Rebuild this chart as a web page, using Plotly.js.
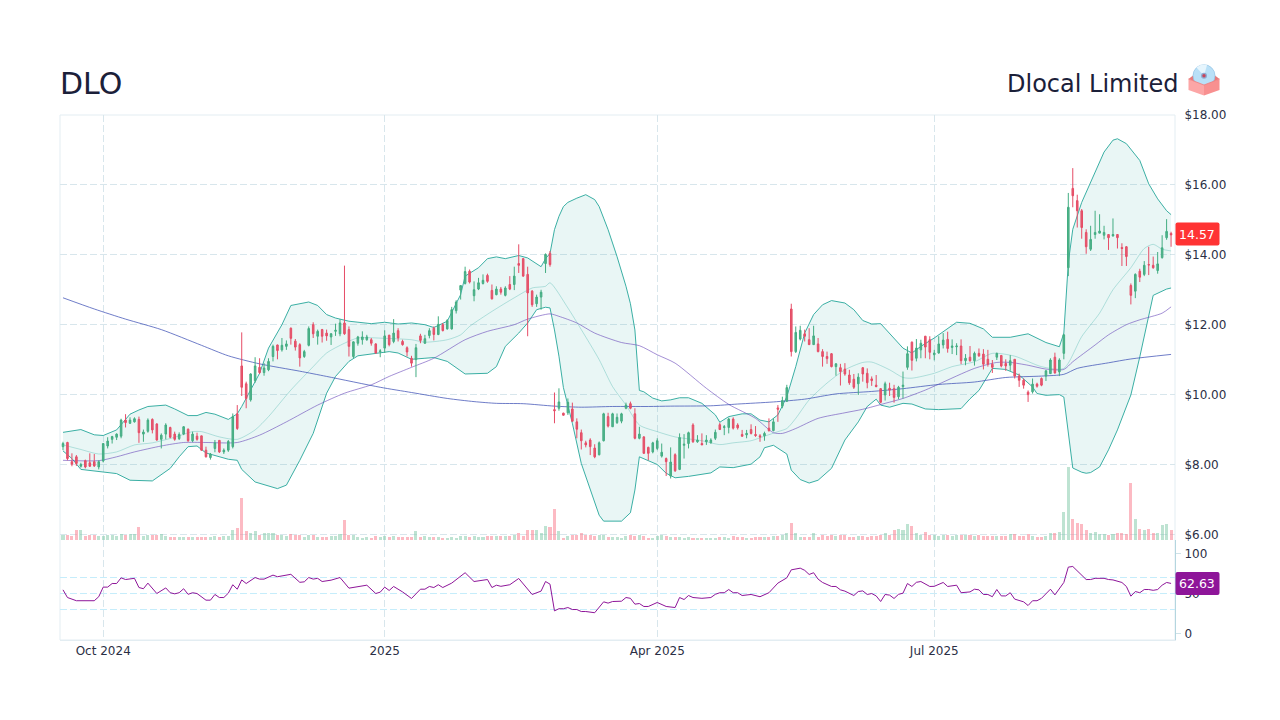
<!DOCTYPE html>
<html>
<head>
<meta charset="utf-8">
<script src="https://cdn.plot.ly/plotly-3.0.1.min.js"></script>
<style>html,body{margin:0;padding:0;background:#fff}#chart{width:1280px;height:720px}</style>
</head>
<body>
<div id="chart"></div>
<script>
const dates = ["2024-09-18","2024-09-19","2024-09-20","2024-09-23","2024-09-24","2024-09-25","2024-09-26","2024-09-27","2024-09-30",
"2024-10-01","2024-10-02","2024-10-03","2024-10-04","2024-10-07","2024-10-08","2024-10-09","2024-10-10","2024-10-11","2024-10-14","2024-10-15","2024-10-16","2024-10-17","2024-10-18","2024-10-21","2024-10-22","2024-10-23","2024-10-24","2024-10-25","2024-10-28","2024-10-29","2024-10-30","2024-10-31",
"2024-11-01","2024-11-04","2024-11-05","2024-11-06","2024-11-07","2024-11-08","2024-11-11","2024-11-12","2024-11-13","2024-11-14","2024-11-15","2024-11-18","2024-11-19","2024-11-20","2024-11-21","2024-11-22","2024-11-25","2024-11-26","2024-11-27","2024-11-29",
"2024-12-02","2024-12-03","2024-12-04","2024-12-05","2024-12-06","2024-12-09","2024-12-10","2024-12-11","2024-12-12","2024-12-13","2024-12-16","2024-12-17","2024-12-18","2024-12-19","2024-12-20","2024-12-23","2024-12-24","2024-12-26","2024-12-27","2024-12-30","2024-12-31",
"2025-01-02","2025-01-03","2025-01-06","2025-01-07","2025-01-08","2025-01-10","2025-01-13","2025-01-14","2025-01-15","2025-01-16","2025-01-17","2025-01-21","2025-01-22","2025-01-23","2025-01-24","2025-01-27","2025-01-28","2025-01-29","2025-01-30","2025-01-31",
"2025-02-03","2025-02-04","2025-02-05","2025-02-06","2025-02-07","2025-02-10","2025-02-11","2025-02-12","2025-02-13","2025-02-14","2025-02-18","2025-02-19","2025-02-20","2025-02-21","2025-02-24","2025-02-25","2025-02-26","2025-02-27","2025-02-28",
"2025-03-03","2025-03-04","2025-03-05","2025-03-06","2025-03-07","2025-03-10","2025-03-11","2025-03-12","2025-03-13","2025-03-14","2025-03-17","2025-03-18","2025-03-19","2025-03-20","2025-03-21","2025-03-24","2025-03-25","2025-03-26","2025-03-27","2025-03-28","2025-03-31",
"2025-04-01","2025-04-02","2025-04-03","2025-04-04","2025-04-07","2025-04-08","2025-04-09","2025-04-10","2025-04-11","2025-04-14","2025-04-15","2025-04-16","2025-04-17","2025-04-21","2025-04-22","2025-04-23","2025-04-24","2025-04-25","2025-04-28","2025-04-29","2025-04-30",
"2025-05-01","2025-05-02","2025-05-05","2025-05-06","2025-05-07","2025-05-08","2025-05-09","2025-05-12","2025-05-13","2025-05-14","2025-05-15","2025-05-16","2025-05-19","2025-05-20","2025-05-21","2025-05-22","2025-05-23","2025-05-27","2025-05-28","2025-05-29","2025-05-30",
"2025-06-02","2025-06-03","2025-06-04","2025-06-05","2025-06-06","2025-06-09","2025-06-10","2025-06-11","2025-06-12","2025-06-13","2025-06-16","2025-06-17","2025-06-18","2025-06-20","2025-06-23","2025-06-24","2025-06-25","2025-06-26","2025-06-27","2025-06-30",
"2025-07-01","2025-07-02","2025-07-03","2025-07-07","2025-07-08","2025-07-09","2025-07-10","2025-07-11","2025-07-14","2025-07-15","2025-07-16","2025-07-17","2025-07-18","2025-07-21","2025-07-22","2025-07-23","2025-07-24","2025-07-25","2025-07-28","2025-07-29","2025-07-30","2025-07-31",
"2025-08-01","2025-08-04","2025-08-05","2025-08-06","2025-08-07","2025-08-08","2025-08-11","2025-08-12","2025-08-13","2025-08-14","2025-08-15","2025-08-18","2025-08-19","2025-08-20","2025-08-21","2025-08-22","2025-08-25","2025-08-26","2025-08-27","2025-08-28","2025-08-29",
"2025-09-02","2025-09-03","2025-09-04","2025-09-05","2025-09-08","2025-09-09","2025-09-10","2025-09-11","2025-09-12","2025-09-15","2025-09-16"];

const openP = [8.51,8.63,8.08,8.22,7.95,8.11,8.05,8.08,7.93,8.10,8.53,8.72,8.78,8.81,9.27,9.18,9.22,9.29,8.87,8.95,9.29,9.16,8.72,8.87,9.06,8.87,8.74,8.87,9.01,8.68,8.81,8.82,8.41,8.20,8.46,8.69,8.36,8.41,8.51,9.45,10.82,10.31,9.85,10.40,10.78,10.63,10.71,11.09,11.42,11.28,11.38,11.90,11.53,11.43,11.09,11.41,12.00,11.67,11.86,11.76,11.65,11.81,11.74,12.05,11.86,11.09,11.47,11.57,11.57,11.57,11.45,11.23,11.33,11.70,11.52,11.83,11.52,11.34,11.04,11.00,11.68,11.47,11.69,11.90,11.72,12.00,11.88,11.88,12.40,12.99,13.18,13.53,12.83,13.02,13.18,13.41,12.98,12.86,13.02,12.84,13.15,13.15,13.75,13.89,13.44,12.96,12.60,12.79,13.75,14.04,9.57,9.61,9.47,9.48,9.59,9.22,8.91,8.62,8.70,8.47,8.28,8.68,9.37,9.08,9.20,9.24,9.61,9.74,9.45,8.75,8.79,8.49,8.36,8.46,8.24,8.17,7.67,8.28,7.86,8.55,8.60,9.13,8.65,8.60,8.65,8.62,8.75,9.14,9.06,9.06,9.30,9.13,8.86,8.85,9.00,8.86,8.82,8.82,9.04,8.97,9.62,9.67,9.81,12.45,11.23,11.59,11.74,11.57,11.43,11.45,11.23,11.09,11.17,10.80,10.77,10.73,10.56,10.44,10.31,10.77,10.61,10.45,10.27,10.17,9.99,10.18,10.17,9.94,10.23,10.78,11.50,11.04,11.28,11.67,11.57,11.14,11.19,11.42,11.58,11.35,11.37,11.39,10.97,11.07,10.97,11.18,11.16,11.01,10.87,11.07,11.12,10.89,10.84,11.01,10.53,10.41,10.07,10.08,10.30,10.46,10.53,10.60,11.07,10.65,11.18,13.63,15.90,15.55,15.26,14.64,14.16,14.58,14.62,14.56,14.58,14.54,14.58,14.21,14.23,13.12,12.96,13.53,13.44,13.72,13.70,13.55,13.92,14.49,14.61];
const closeP = [8.60,8.17,8.01,8.03,8.00,7.93,7.95,7.96,8.08,8.60,8.67,8.80,8.87,9.27,9.20,9.27,9.31,8.91,8.93,9.27,8.99,8.70,8.84,9.13,8.78,8.72,8.86,9.08,8.68,8.87,8.72,8.41,8.22,8.30,8.62,8.36,8.41,8.66,9.37,9.03,10.21,9.89,10.59,10.82,10.63,10.76,10.95,11.38,11.26,11.41,11.45,11.61,11.36,11.05,11.23,11.89,11.74,11.81,11.67,11.68,11.74,11.84,12.05,11.74,11.38,11.51,11.65,11.65,11.65,11.47,11.19,11.25,11.68,11.43,11.76,11.62,11.43,11.22,10.90,11.34,11.55,11.60,11.83,11.72,12.01,11.83,12.12,12.43,12.65,13.12,13.52,13.22,13.00,13.20,13.27,13.24,12.74,13.02,12.93,13.05,13.02,13.39,13.70,13.39,12.91,12.57,12.79,12.93,14.01,13.72,9.54,9.79,9.41,9.78,9.24,9.01,8.68,8.56,8.51,8.22,8.62,9.45,9.10,9.45,9.35,9.45,9.70,9.61,8.75,8.87,8.32,8.32,8.62,8.68,8.35,8.08,8.07,7.82,8.77,8.58,8.91,8.65,8.70,8.56,8.70,8.70,8.92,9.00,9.08,9.30,9.04,9.05,8.81,8.89,8.89,8.83,8.79,8.89,8.97,9.22,9.58,9.83,10.20,11.23,11.78,11.84,11.67,11.43,11.68,11.23,11.09,11.03,10.80,10.88,10.66,10.59,10.34,10.21,10.50,10.59,10.34,10.40,10.23,9.78,10.31,10.13,9.92,10.21,10.27,11.17,10.98,11.33,11.47,11.36,11.21,11.19,11.45,11.56,11.32,11.39,11.39,10.97,11.04,10.97,11.18,11.11,10.87,10.87,10.78,11.18,10.82,10.82,10.97,10.53,10.41,10.27,10.00,10.30,10.24,10.27,10.68,10.99,10.62,10.99,11.71,15.36,15.69,15.26,14.78,14.23,14.44,14.64,14.68,14.64,14.49,14.58,14.49,14.18,13.95,12.84,13.44,13.36,13.70,13.71,13.63,13.74,14.20,14.67,14.57];
const highP = [8.65,8.65,8.32,8.27,8.05,8.14,8.32,8.30,8.12,8.60,8.78,8.82,8.89,9.31,9.44,9.35,9.35,9.37,9.00,9.32,9.32,9.18,8.89,9.18,9.08,8.94,8.92,9.10,9.03,8.94,8.91,8.82,8.51,8.33,8.70,8.70,8.46,8.70,9.46,9.70,11.78,10.37,10.61,11.07,11.04,10.90,11.04,11.43,11.43,11.62,11.55,11.92,11.59,11.47,11.28,11.95,12.07,11.86,11.88,11.86,11.76,12.03,12.16,13.69,11.95,11.52,11.68,11.81,11.71,11.62,11.47,11.30,11.84,11.71,12.16,11.90,11.57,11.38,11.11,11.45,11.74,11.71,11.90,11.95,12.24,12.05,12.16,12.51,12.70,13.12,13.66,13.58,13.24,13.34,13.44,13.46,13.15,13.10,13.08,13.10,13.39,13.66,14.30,13.91,13.66,12.99,12.86,13.00,14.04,14.11,10.06,10.18,9.48,9.89,9.77,9.32,9.00,8.68,8.75,8.58,8.66,9.48,9.48,9.48,9.46,9.48,9.77,9.80,9.61,9.08,8.81,8.51,8.65,8.75,8.60,8.20,8.49,8.32,8.89,8.87,8.94,9.18,8.84,8.89,8.84,8.75,9.00,9.20,9.13,9.34,9.35,9.18,8.99,8.99,9.15,9.10,8.87,8.94,9.32,9.32,9.70,9.94,10.28,12.60,11.95,11.97,11.86,11.90,11.97,11.62,11.30,11.23,11.19,10.90,10.88,10.90,10.71,10.59,10.61,10.78,10.75,10.52,10.56,10.18,10.37,10.34,10.28,10.25,10.66,11.38,11.52,11.59,11.57,11.68,11.67,11.28,11.67,11.76,11.80,11.58,11.47,11.58,11.16,11.39,11.23,11.32,11.30,11.28,10.99,11.20,11.13,11.01,11.13,11.01,10.60,10.46,10.12,10.46,10.34,10.49,10.70,11.04,11.20,11.04,11.74,15.77,16.48,15.72,15.31,14.73,14.83,15.26,15.16,14.83,14.59,15.04,14.59,14.33,14.25,13.18,13.47,13.60,13.82,14.23,13.95,14.08,14.56,15.02,14.66];
const lowP = [8.41,8.12,7.95,7.96,7.91,7.89,7.93,7.93,7.86,8.06,8.46,8.60,8.70,8.75,9.06,9.16,9.20,8.62,8.65,8.91,8.89,8.68,8.46,8.72,8.75,8.68,8.70,8.84,8.65,8.64,8.68,8.39,8.20,8.14,8.35,8.33,8.30,8.36,8.46,8.99,9.96,9.61,9.80,10.34,10.59,10.54,10.67,10.95,11.01,11.23,11.28,11.43,11.26,10.80,11.05,11.38,11.62,11.43,11.49,11.54,11.42,11.68,11.67,11.71,11.09,11.04,11.40,11.43,11.54,11.40,11.17,11.07,11.19,11.38,11.47,11.52,11.40,11.09,10.80,10.50,11.47,11.45,11.61,11.55,11.70,11.81,11.86,11.86,12.32,12.72,13.15,13.18,12.67,12.99,13.15,13.20,12.72,12.84,12.86,12.81,12.99,12.99,13.48,13.37,11.67,12.51,12.51,12.43,13.48,13.66,9.18,9.54,9.40,9.42,9.22,8.75,8.43,8.49,8.27,8.18,8.26,8.66,9.06,9.08,9.16,9.18,9.58,9.58,8.72,8.72,8.30,8.12,8.32,8.41,8.20,7.67,7.60,7.79,7.84,8.17,8.46,8.62,8.62,8.56,8.56,8.60,8.70,8.99,8.84,8.89,9.00,9.00,8.79,8.75,8.86,8.79,8.65,8.68,8.94,8.95,9.22,9.61,9.79,11.09,11.19,11.55,11.52,11.43,11.43,11.21,10.80,10.88,10.78,10.54,10.26,10.54,10.28,10.16,9.99,10.37,10.18,10.25,10.21,9.75,9.83,9.96,9.77,9.87,9.89,10.71,10.69,10.95,11.04,11.04,11.01,10.98,11.17,11.32,11.20,11.16,11.13,10.87,10.84,10.94,10.83,11.08,10.72,10.80,10.62,10.99,10.78,10.68,10.68,10.46,10.22,10.17,9.79,10.03,10.20,10.24,10.39,10.59,10.60,10.53,11.01,13.39,15.36,14.78,14.46,14.03,14.11,14.46,14.62,14.44,14.14,14.52,14.18,13.68,13.68,12.58,12.76,13.22,13.39,13.42,13.60,13.46,13.89,14.43,14.23];
const volumeM = [2,1.75,1.38,3.88,3.88,1.38,1.75,1.75,1.38,1.5,1.75,1.75,1.38,2.38,2,2.38,2.38,4.75,1.38,2,1.75,1.75,2.38,1.38,1,1,1,1,1,1,1,1,1,1,1.38,1,1.38,1.38,3.88,4.38,15.63,3.25,2.75,3.25,2,2.75,2.75,2.75,1.75,2,1.38,2.38,2,1.75,1,1.75,1.75,1,1,1,1.38,1.38,2.38,7.38,2,1.75,1,0.75,1,0.75,1.38,1,1.38,1,1.38,1,1,1,1,3.25,1,1.38,1,1,1,0.75,0.75,1,0.63,1.38,1.38,1,1.38,1,1,1.38,1.38,1.38,1.38,1.38,1.38,2,2.5,1.38,3.63,3.63,3.63,2.5,5.13,4.75,11.5,3.25,0.75,1.38,1.75,1.75,2.5,1.75,1.75,1.38,1.75,2,1,1,1,0.63,1.38,2,1.38,1.75,1.38,0.63,0.63,1.38,1.75,1.38,1,1,1,0.63,1,0.63,0.63,0.63,0.63,0.63,0.63,1,1,0.63,1.38,1,1,0.63,0.63,1,1,1,1,1.38,1.38,1.75,2.5,6.38,2.5,1,1,1,2.5,1,1.75,1.38,1.75,1.38,1.88,1.88,1,1,1.5,1.5,1,1.5,1.5,1.88,2.5,1.88,3.75,4.13,3.75,6,5.25,2.5,1.88,3,1.88,1.88,1.5,1.88,1.88,1.5,1.88,1.88,1.88,1.88,1.5,1.88,1.5,1.5,1.5,1.5,1.5,1.5,2.25,2.25,1.5,1.5,2.25,1.5,1,1,1.5,2.5,2.5,3,10.5,27.5,7.88,6.38,6,3.75,2.63,3,2.25,2.25,1.88,2.25,2.63,2.63,2.25,21.38,7.88,4.13,3.75,4.13,2.63,2.63,5.63,6,3.75];

const upperIdx = [0,4,7,9,12,15,17,19,23,25,28,30,32,34,37,39,40,42,44,46,49,51,53,55,57,59,61,64,69,72,75,78,81,83,86,89,90,93,95,97,99,102,104,107,108,109,110,111,112,113,115,117,119,120,121,122,124,126,127,128,129,130,132,134,136,138,140,143,146,147,149,152,154,156,158,160,162,164,166,168,170,172,175,177,179,181,183,185,188,190,192,195,199,200,203,206,208,212,216,220,223,224,225,226,228,231,233,235,236,238,241,243,245,247,248];
const upperBand = [8.92,9.00,8.85,8.83,8.99,9.44,9.56,9.66,9.70,9.59,9.40,9.40,9.49,9.44,9.29,9.45,9.66,10.13,10.61,11.33,12.00,12.55,12.60,12.65,12.55,12.29,12.19,12.10,12.03,12.07,12.02,12.05,12.00,11.92,12.10,12.86,13.39,13.63,13.89,13.94,13.89,13.98,13.91,13.66,13.89,14.04,14.72,15.10,15.38,15.50,15.62,15.72,15.58,15.38,15.05,14.72,13.95,13.10,12.60,11.85,10.12,10.08,9.90,9.82,9.85,9.91,9.91,9.75,9.42,9.21,9.37,9.45,9.45,9.27,9.22,9.42,9.94,10.80,11.76,12.29,12.57,12.69,12.62,12.43,12.12,12.02,12.03,11.76,11.33,11.19,11.38,11.62,11.98,12.07,12.04,11.88,11.64,11.64,11.74,11.49,11.37,11.76,13.77,14.73,15.50,16.36,16.94,17.28,17.32,17.18,16.70,16.03,15.60,15.26,15.15];
const lowerIdx = [0,2,4,9,12,15,20,24,26,28,30,32,37,39,40,43,48,50,53,56,59,61,64,66,70,73,75,78,81,83,86,90,95,97,99,102,104,106,108,109,110,111,112,114,116,118,120,121,125,127,128,129,131,133,135,137,140,145,147,150,154,156,157,159,162,163,165,167,169,172,175,178,180,182,183,185,188,190,193,196,201,203,205,207,208,211,214,217,218,220,223,224,225,226,228,229,230,232,234,236,239,241,244,246,247,248];
const lowerBand = [8.39,8.17,7.86,7.79,7.74,7.55,7.53,7.89,8.22,8.51,8.53,8.33,8.15,8.12,7.86,7.50,7.31,7.41,8.12,8.89,10.04,10.52,10.95,11.11,11.19,11.23,11.19,11.01,11.04,11.06,10.95,10.59,10.61,10.80,11.38,11.76,12.05,12.43,12.50,12.48,11.85,11.10,10.20,9.18,8.03,7.27,6.55,6.38,6.38,6.62,7.27,8.22,8.10,8.00,7.75,7.62,7.66,7.76,7.93,7.91,8.01,8.22,8.48,8.55,8.30,7.84,7.57,7.47,7.55,7.89,8.70,9.22,9.66,9.87,9.70,9.64,9.75,9.73,9.59,9.57,9.60,9.88,10.12,10.56,10.75,10.72,10.56,10.22,10.03,9.98,10.00,9.93,8.99,7.90,7.78,7.75,7.77,7.93,8.42,8.99,9.99,11.08,12.84,12.95,13.02,13.05];
const midIdx = [0,4,8,12,16,20,25,29,31,35,39,43,46,51,56,59,63,66,72,78,81,86,89,91,96,101,105,108,109,113,116,120,123,126,129,133,137,143,147,150,154,157,160,162,164,167,171,175,179,181,185,188,190,195,199,204,208,213,219,224,228,232,235,239,242,244,246,248];
const sma20 = [8.56,8.43,8.30,8.36,8.56,8.62,8.78,8.94,8.94,8.79,8.72,8.99,9.37,10.13,10.80,11.19,11.47,11.62,11.61,11.57,11.50,11.57,11.71,11.95,12.38,12.77,13.05,13.10,13.20,12.48,11.86,11.00,10.23,9.70,9.13,8.94,8.79,8.68,8.57,8.62,8.68,8.81,8.94,9.03,9.32,9.85,10.33,10.71,10.92,10.93,10.71,10.49,10.47,10.61,10.80,10.94,11.18,11.10,10.80,10.75,11.66,12.33,13.00,13.63,14.18,14.30,14.16,14.11];
const sma50Idx = [0,8,12,16,22,27,32,39,44,50,57,63,69,73,78,83,90,95,101,104,109,111,115,119,125,129,133,137,144,149,155,159,161,164,169,175,179,184,188,193,196,204,209,212,216,220,224,226,231,234,238,241,246,248];
const sma50 = [8.12,8.11,8.22,8.36,8.53,8.63,8.63,8.63,8.84,9.22,9.70,10.04,10.28,10.52,10.78,11.04,11.57,11.81,12.00,12.16,12.31,12.24,12.05,11.76,11.49,11.40,11.14,10.90,10.18,9.72,9.32,8.91,8.89,9.03,9.32,9.48,9.58,9.75,9.89,10.13,10.30,10.75,10.92,10.92,10.84,10.73,10.72,10.94,11.42,11.71,12.00,12.14,12.33,12.51];
const sma200Idx = [0,7,14,22,31,37,44,53,59,71,78,86,92,97,103,110,116,123,131,136,145,151,159,166,173,181,188,196,204,211,219,224,227,234,239,248];
const sma200 = [12.77,12.45,12.16,11.86,11.41,11.11,10.88,10.67,10.52,10.21,10.06,9.89,9.80,9.75,9.74,9.67,9.64,9.66,9.66,9.67,9.68,9.73,9.79,9.87,10.02,10.09,10.17,10.29,10.36,10.49,10.53,10.58,10.75,10.91,11.02,11.15];
const rsiIdx = [0,1,3,7,8,9,10,11,12,13,14,16,17,18,19,21,23,24,25,26,27,28,29,30,32,33,34,35,36,37,38,39,40,41,43,44,45,47,48,51,53,54,55,56,57,58,60,62,64,66,68,70,71,72,73,74,76,78,80,81,82,83,84,85,87,90,92,95,96,97,98,100,102,105,107,108,109,110,111,112,113,114,115,116,117,119,121,122,123,125,126,127,128,129,130,131,133,135,137,138,139,140,141,143,145,146,147,148,149,150,151,152,154,156,158,160,162,163,165,166,167,168,169,170,171,172,173,174,175,177,178,179,180,181,182,183,184,185,186,187,188,189,190,191,192,194,195,197,198,200,201,203,204,205,206,207,208,209,210,211,212,213,215,216,217,218,219,221,222,224,225,226,229,230,231,233,234,235,237,238,239,240,241,242,243,244,245,246,247,248];
const rsi = [54.6,45,41,41,46,58,58,62.5,62.5,69.6,67.5,69,57.5,56,63,50,57,51,49.6,51,56,49,51,50,41.7,41.7,48.8,45,45,50.4,61,55.4,67,62.5,70,68,68,73,71,74,64,64.6,70,68,69,65,66.7,70,56.7,58.8,60.4,50,51.7,58,53.8,58.8,52,43.8,55.4,55.4,58.8,57.5,61,57.5,63,76,65,67.5,57.5,60.4,59,61,68.8,48.8,53,65,61.7,28.3,31,31,32.5,30,30,27.5,27.5,26,39.6,38,40,40.4,45,44,36.7,37.5,33.8,33.8,38.8,33.8,32.5,45,42.5,47.5,45,44,45,49,51,51,55,51,51,47.5,48.8,46,51,63,69.6,79.6,81.7,79,73.8,76,68,63.8,61.7,58.8,58.8,54.6,53,47.5,52.5,53.3,48.8,50,47,40,48.8,48,43.8,49,50.4,62.5,58.8,64,65,58.8,59,63.8,58.8,60.4,51,52,55.4,54.6,48.8,48.8,46,55,47,47,51,43,39.6,35,41,41,44,55.4,48.3,63.8,83,83.8,67.5,67.5,69,69,67.5,67,63.8,58.8,46.7,52.5,51,55,55,54,55,60.4,63.8,62.63];

const priceTicks = [6,8,10,12,14,16,18];
const priceTickText = ["$6.00","$8.00","$10.00","$12.00","$14.00","$16.00","$18.00"];
const rsiTicks = [0,50,100];
const rsiBands = [30,50,70];
const xTickVals = ["2024-10-01","2024-12-31","2025-04-01","2025-07-01"];
const xTickText = ["Oct 2024","2025","Apr 2025","Jul 2025"];
const lastClose = 14.57, lastRsi = 62.63;
const leftName = "DLO", rightName = "Dlocal Limited";

const at = ids => ids.map(i => dates[i]);
const UP = "#43ad82", UPF = "rgba(76,175,135,0.95)", DN = "#e64c66", DNF = "rgba(226,85,105,0.95)";
const TXT = "#2b2f45", GRID = "#d8e6ec", GDASH = "7px,3px";
const priceRange = [5.84, 18.0];

const lineTrace = (x, y, color, w, extra) => Object.assign({type:"scatter", mode:"lines", x:at(x), y, xaxis:"x", yaxis:"y",
  line:{color, width:w}, hoverinfo:"skip", showlegend:false}, extra||{});
const smooth = (color, w) => ({color, width:w, shape:"spline", smoothing:0.7});

const traces = [
  lineTrace(upperIdx, upperBand, "rgba(38,166,154,0.9)", 1),
  lineTrace(lowerIdx, lowerBand, "rgba(38,166,154,0.9)", 1, {fill:"tonexty", fillcolor:"rgba(38,166,154,0.1)"}),
  lineTrace(midIdx, sma20, "", 1, {line:smooth("rgba(38,166,154,0.3)",1)}),
  lineTrace(sma50Idx, sma50, "", 1, {line:smooth("rgba(103,70,185,0.6)",1)}),
  lineTrace(sma200Idx, sma200, "", 1, {line:smooth("rgba(63,81,181,0.75)",1)}),
  {type:"bar", x:dates, y:volumeM, xaxis:"x", yaxis:"y3", width:0.68,
   marker:{color:closeP.map((c,i)=> c>=openP[i] ? "rgba(125,200,165,0.5)" : "rgba(250,130,145,0.55)"), line:{width:0}},
   hoverinfo:"skip", showlegend:false},
  {type:"candlestick", x:dates, open:openP, high:highP, low:lowP, close:closeP, xaxis:"x", yaxis:"y4",
   increasing:{line:{color:UP,width:1}, fillcolor:UPF}, decreasing:{line:{color:DN,width:1}, fillcolor:DNF},
   whiskerwidth:0, hoverinfo:"skip", showlegend:false},
  {type:"scatter", mode:"lines", x:at(rsiIdx), y:rsi, xaxis:"x", yaxis:"y2",
   line:{color:"#8e1599", width:1}, hoverinfo:"skip", showlegend:false}
];

const tagPathAt = d => `M 0.5 ${d-9.5} Q 0.5 ${d-11.5} 2.5 ${d-11.5} L 42.5 ${d-11.5} Q 44.5 ${d-11.5} 44.5 ${d-9.5} L 44.5 ${d+9.5} Q 44.5 ${d+11.5} 42.5 ${d+11.5} L 2.5 ${d+11.5} Q 0.5 ${d+11.5} 0.5 ${d+9.5} Z`;
const tagShape = (yref, v, c, d) => ({type:"path", layer:"above", xref:"paper", xsizemode:"pixel", xanchor:1, yref, ysizemode:"pixel", yanchor:v,
  path:tagPathAt(d), fillcolor:c, line:{width:0}});
const tagNote = (yref, v, t) => ({xref:"paper", x:1, xshift:22, yref, y:v, text:t, showarrow:false, xanchor:"center", yanchor:"middle",
  font:{family:"DejaVu Sans", size:12.5, color:"#fff"}});

const iconSvg = `<svg xmlns="http://www.w3.org/2000/svg" width="32" height="32" viewBox="0 0 32 32">
<path d="M0.5 15 L5 11.5 L27 11.5 L31.5 15 L16 21 Z" fill="#e87a7a"/>
<circle cx="16" cy="11.7" r="11" fill="#b9e0f7" stroke="#8fc2e4" stroke-width="0.7"/>
<path d="M16 11.7 L8.5 3.6 A11 11 0 0 1 19 1.1 Z" fill="#e6f5fd"/>
<circle cx="16" cy="11.7" r="3" fill="#8fa9d0"/><circle cx="16" cy="11.7" r="1.7" fill="#c8455a"/>
<path d="M0.5 15 L16 21 L16 31.5 L0.5 26 Z" fill="#fca6a6"/>
<path d="M31.5 15 L16 21 L16 31.5 L31.5 26 Z" fill="#f89090"/>
<path d="M0.5 15 L16 21 L31.5 15" fill="none" stroke="#ee7c7c" stroke-width="0.8"/>
</svg>`;

const layout = {
  width:1280, height:720, autosize:false, paper_bgcolor:"#fff", plot_bgcolor:"#fff",
  margin:{l:60, r:105, t:115, b:80, pad:0}, showlegend:false, bargap:0, boxgap:0.5, hovermode:false, dragmode:false,
  font:{family:"DejaVu Sans", size:12, color:TXT},
  title:{text:leftName, xref:"paper", x:0, xanchor:"left", yref:"container", y:1-83/720, yanchor:"middle",
    font:{family:"DejaVu Sans", size:30, color:"#1b2039"}, pad:{l:0,r:0,t:0,b:0}},
  xaxis:{type:"category", categoryorder:"array", categoryarray:dates, range:[-0.67,248.88], domain:[0,1], anchor:"y2",
    tickmode:"array", tickvals:xTickVals, ticktext:xTickText, ticks:"", showgrid:true, gridcolor:GRID, griddash:GDASH, gridwidth:1,
    showline:true, linecolor:"#e3edf2", linewidth:1, zeroline:false, rangeslider:{visible:false}, tickfont:{size:12,color:TXT}, tickangle:0, automargin:false},
  yaxis:{domain:[100/525,1], anchor:"x", side:"right", range:priceRange, tickmode:"array", tickvals:priceTicks, ticktext:priceTickText,
    showgrid:true, gridcolor:GRID, griddash:GDASH, gridwidth:1, zeroline:false, showline:false, ticks:"outside", ticklen:5, tickcolor:"rgba(0,0,0,0)",
    ticklabelstandoff:1, tickfont:{size:12,color:TXT}, automargin:false},
  yaxis2:{domain:[0,100/525], anchor:"x", side:"right", range:[-8.1,116.9], tickmode:"array", tickvals:rsiTicks,
    showgrid:false, zeroline:false, showline:true, linecolor:"#b4d6df", linewidth:1, ticks:"outside", ticklen:5, tickcolor:"#cfe2e8",
    ticklabelstandoff:1, tickfont:{size:12,color:TXT}, automargin:false},
  yaxis3:{domain:[100/525,1], anchor:"x", overlaying:"y", side:"right", range:[0,160], visible:false, showgrid:false, zeroline:false},
  yaxis4:{domain:[100/525,1], anchor:"x", overlaying:"y", side:"right", range:priceRange, visible:false, showgrid:false, zeroline:false},
  shapes:[
    {type:"rect", layer:"below", xref:"paper", yref:"paper", x0:0, x1:1, y0:0, y1:1, line:{color:"#e3edf2", width:1}, fillcolor:"rgba(0,0,0,0)"},
    ...rsiBands.map(v => ({type:"line", layer:"below", xref:"paper", x0:0, x1:1, yref:"y2", y0:v, y1:v, line:{color:"#c6edfb", width:1, dash:GDASH}})),
    tagShape("y", lastClose, "#ff3333", 1),
    tagShape("y2", lastRsi, "#8e1599", 0)
  ],
  annotations:[
    {xref:"paper", x:1121/1115, yref:"paper", y:1+(115-84)/525, text:rightName, showarrow:false, xanchor:"right", yanchor:"middle",
     font:{family:"DejaVu Sans", size:24, color:"#1b2039"}},
    tagNote("y", lastClose, lastClose.toFixed(2)),
    tagNote("y2", lastRsi, lastRsi.toFixed(2))
  ],
  images:[{source:"data:image/svg+xml;base64,"+btoa(iconSvg), xref:"paper", yref:"paper", x:(1188-60)/1115, y:1+(115-64)/525,
    sizex:32/1115, sizey:32/525, xanchor:"left", yanchor:"top", sizing:"stretch", layer:"above"}]
};
Plotly.newPlot("chart", traces, layout, {staticPlot:true, displayModeBar:false});
</script>
</body>
</html>
